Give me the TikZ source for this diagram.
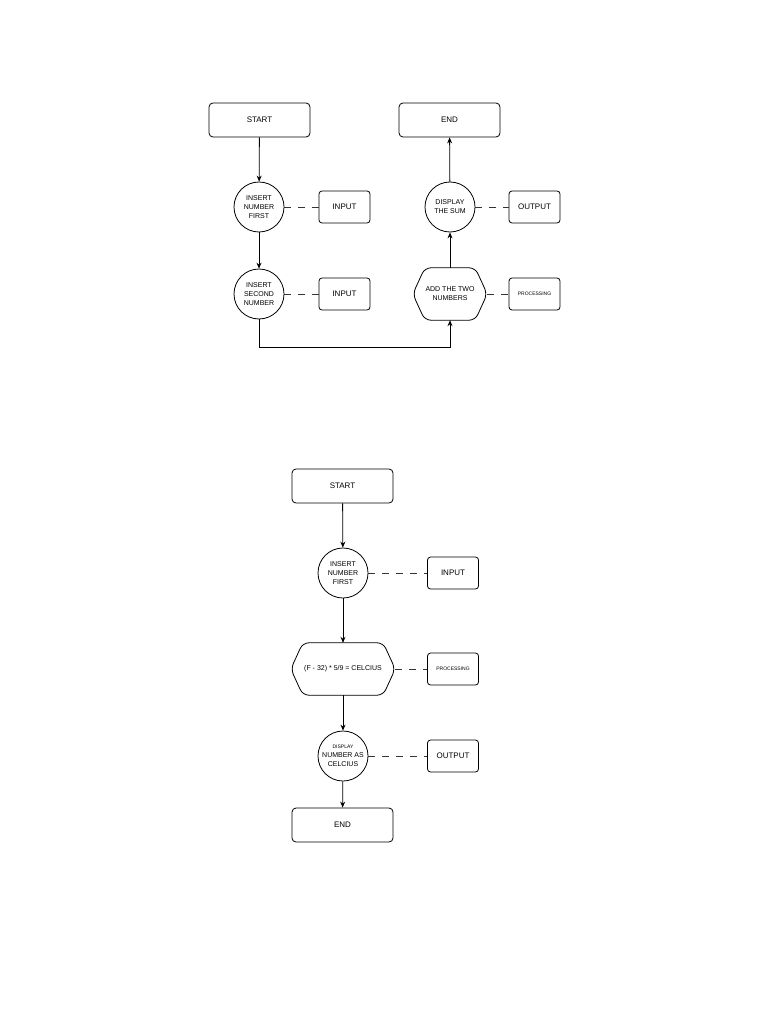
\documentclass[tikz,border=0pt]{standalone}
\usepackage{fontspec}
\setmainfont{Liberation Sans}
\usetikzlibrary{calc,arrows.meta}
\begin{document}
\begin{tikzpicture}[x=1pt,y=-1pt,
  every node/.style={font=\fontsize{7}{9}\selectfont, align=center, inner sep=0pt},
  term/.style={draw, rounded corners=4pt, minimum width=101pt, minimum height=34pt, line width=0.8pt},
  tag/.style={draw, rounded corners=3pt, minimum width=51pt, minimum height=32pt, line width=0.8pt},
  circ/.style={draw, circle, minimum size=50pt, line width=0.8pt},
  hexa/.style={minimum height=52pt},
  arr/.style={-{Stealth[length=6pt,width=5pt]}, line width=0.8pt},
  dashline/.style={dashed, dash pattern=on 7pt off 7pt, line width=0.6pt, draw=black!80}]
\useasboundingbox (0,0) rectangle (768,1024);
\newcommand{\hexdraw}[2]{\draw[line width=0.8pt, rounded corners=6pt] ($(#1.west)$) -- ($(#1.north west)+(#2,0)$) -- ($(#1.north east)-(#2,0)$) -- (#1.east) -- ($(#1.south east)-(#2,0)$) -- ($(#1.south west)+(#2,0)$) -- cycle;}
% top
\node[term] (s1) at (259.5,120) {\fontsize{8}{9}\selectfont START};
\node[term] (e1) at (449.5,120) {\fontsize{8}{9}\selectfont END};
\node[circ] (c1) at (259,207) {INSERT\\NUMBER\\FIRST};
\node[circ] (c2) at (259,294) {INSERT\\SECOND\\NUMBER};
\node[tag] (i1) at (344.5,207) {\fontsize{8}{9}\selectfont INPUT};
\node[tag] (i2) at (344.5,294) {\fontsize{8}{9}\selectfont INPUT};
\node[hexa, minimum width=74pt] (h1) at (450,294) {ADD THE TWO\\NUMBERS};
\hexdraw{h1}{12}
\node[tag] (p1) at (534.5,294) {\fontsize{5}{6}\selectfont PROCESSING};
\node[circ] (d1) at (450,207) {DISPLAY\\THE SUM};
\node[tag] (o1) at (534.5,207) {\fontsize{8}{9}\selectfont OUTPUT};
\draw[arr] (s1) -- (c1);
\draw[arr] (c1) -- (c2);
\draw[arr] (c2.south) |- (259,347) -| (h1.south);
\draw[arr] (h1) -- (d1);
\draw[arr] (d1) -- (e1);
\draw[dashline] (c1) -- (i1);
\draw[dashline] (c2) -- (i2);
\draw[dashline] (h1) -- (p1);
\draw[dashline] (d1) -- (o1);
% bottom
\node[term] (s2) at (342.5,486) {\fontsize{8}{9}\selectfont START};
\node[circ] (c3) at (343,573) {INSERT\\NUMBER\\FIRST};
\node[tag] (i3) at (453,573) {\fontsize{8}{9}\selectfont INPUT};
\node[hexa, minimum width=104pt] (h2) at (343,669) {(F - 32) * 5/9 = CELCIUS};
\hexdraw{h2}{12}
\node[tag] (p2) at (453,669) {\fontsize{5}{6}\selectfont PROCESSING};
\node[circ] (c4) at (343,756) {\fontsize{5}{8}\selectfont DISPLAY\\NUMBER AS\\CELCIUS};
\node[tag] (o2) at (453,756) {\fontsize{8}{9}\selectfont OUTPUT};
\node[term] (e2) at (342.5,825) {\fontsize{8}{9}\selectfont END};
\draw[arr] (s2) -- (c3);
\draw[arr] (c3) -- (h2);
\draw[arr] (h2) -- (c4);
\draw[arr] (c4) -- (e2);
\draw[dashline] (c3) -- (i3);
\draw[dashline] (h2) -- (p2);
\draw[dashline] (c4) -- (o2);
\end{tikzpicture}
\end{document}
